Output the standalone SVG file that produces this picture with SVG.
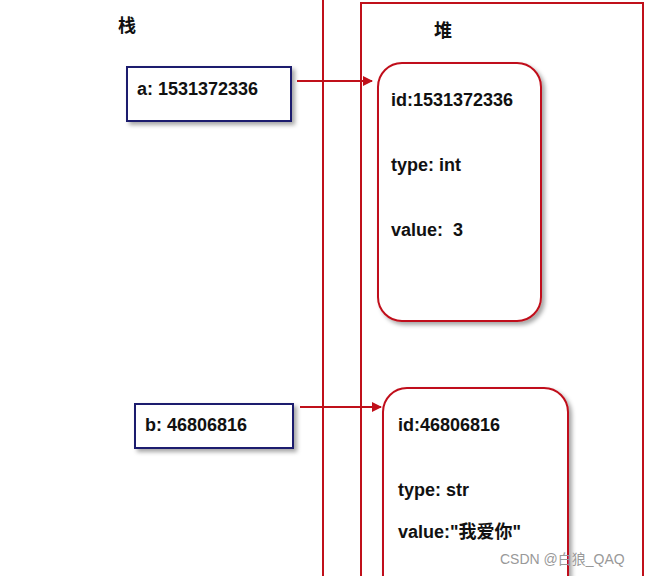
<svg xmlns="http://www.w3.org/2000/svg" width="645" height="576" viewBox="0 0 645 576">
<defs>
<style>
.t{font-family:"Liberation Sans","Noto Sans CJK SC",sans-serif;font-weight:bold;font-size:18px;fill:#111}
.panel{fill:none;stroke:#c0101a;stroke-width:2}
.var{fill:#fff;stroke:#1a1a6e;stroke-width:2;filter:url(#sh)}
.obj{fill:#fff;stroke:#c0101a;stroke-width:2;filter:url(#sh)}
.c{stroke:#c0101a;stroke-width:2;fill:none;marker-end:url(#ah)}
</style>
<filter id="sh" x="-10%" y="-10%" width="130%" height="130%"><feDropShadow dx="3" dy="3" stdDeviation="2" flood-color="#000" flood-opacity="0.35"/></filter>
<marker id="ah" markerWidth="10" markerHeight="10" refX="9" refY="5" orient="auto" markerUnits="userSpaceOnUse"><path d="M0,0 L10,5 L0,10 z" fill="#c0101a"/></marker>
</defs>
<rect width="645" height="576" fill="#fff"/>
<g id="stack"><rect class="panel" x="-2" y="-2" width="325" height="590"/><text class="t" x="118" y="32">栈</text></g>
<g id="heap"><rect class="panel" x="361" y="3" width="282" height="590"/><text class="t" x="434" y="37">堆</text></g>
<g id="varA"><rect class="var" x="127" y="67" width="164" height="54"/><text class="t" x="137" y="95">a: 1531372336</text></g>
<g id="varB"><rect class="var" x="135" y="404" width="158" height="44"/><text class="t" x="145" y="431">b: 46806816</text></g>
<g id="objA"><rect class="obj" x="378" y="63" width="163" height="258" rx="24"/>
<text class="t" x="391" y="106">id:1531372336</text><text class="t" x="391" y="171">type: int</text><text class="t" x="391" y="236" xml:space="preserve">value:  3</text></g>
<g id="objB"><rect class="obj" x="383" y="388" width="185" height="220" rx="24"/>
<text class="t" x="398" y="431">id:46806816</text><text class="t" x="398" y="496">type: str</text><text class="t" x="398" y="538">value:"我爱你"</text></g>
<g id="connectors"><path class="c" d="M297,81 L372,81"/><path class="c" d="M300,407 L381,407"/></g>
<text x="500" y="564" font-family="'Liberation Sans','Noto Sans CJK SC',sans-serif" font-size="14" fill="#999">CSDN @白狼_QAQ</text>
</svg>
